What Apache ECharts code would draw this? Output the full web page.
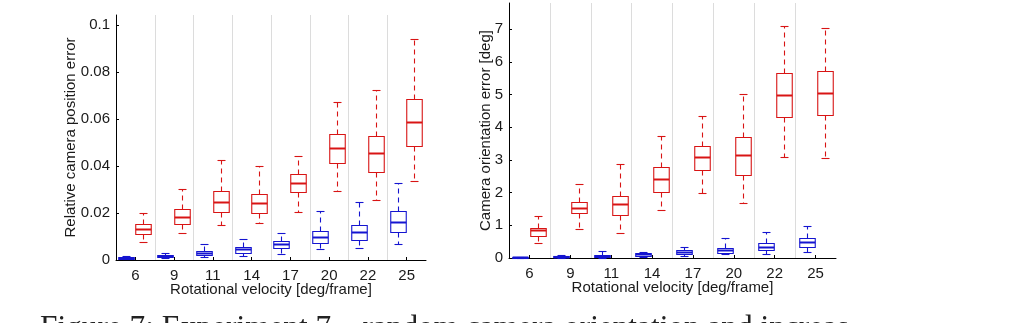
<!DOCTYPE html>
<html>
<head>
<meta charset="utf-8">
<script src="https://cdn.jsdelivr.net/npm/echarts@6/dist/echarts.min.js"></script>
<style>
html,body{margin:0;padding:0;background:#fff;}
#chart{width:1032px;height:323px;}
</style>
</head>
<body>
<div id="chart"></div>
<script>
// ---- data ----
const categories = ['6', '9', '11', '14', '17', '20', '22', '25'];
// each entry: [min, Q1, median, Q3, max]
const positionBlue = [
  [0.0003, 0.0006, 0.0009, 0.0012, 0.0016],
  [0.0007, 0.0011, 0.0016, 0.0021, 0.0031],
  [0.0013, 0.0020, 0.0028, 0.0037, 0.0070],
  [0.0017, 0.0028, 0.0045, 0.0054, 0.0091],
  [0.0024, 0.0051, 0.0067, 0.0081, 0.0113],
  [0.0047, 0.0071, 0.0096, 0.0122, 0.0207],
  [0.0051, 0.0085, 0.0119, 0.0150, 0.0248],
  [0.0067, 0.0118, 0.0163, 0.0207, 0.0326]
];
const positionRed = [
  [0.0075, 0.0109, 0.0133, 0.0152, 0.0199],
  [0.0113, 0.0152, 0.0183, 0.0216, 0.0301],
  [0.0150, 0.0203, 0.0247, 0.0292, 0.0424],
  [0.0156, 0.0199, 0.0244, 0.0279, 0.0400],
  [0.0203, 0.0288, 0.0329, 0.0365, 0.0441],
  [0.0292, 0.0411, 0.0477, 0.0535, 0.0671],
  [0.0254, 0.0376, 0.0454, 0.0529, 0.0722],
  [0.0336, 0.0484, 0.0586, 0.0687, 0.0942]
];
const orientationBlue = [
  [0.00, 0.01, 0.02, 0.03, 0.04],
  [0.01, 0.02, 0.04, 0.05, 0.08],
  [0.01, 0.04, 0.07, 0.10, 0.21],
  [0.04, 0.07, 0.11, 0.14, 0.18],
  [0.07, 0.12, 0.17, 0.24, 0.34],
  [0.11, 0.14, 0.25, 0.32, 0.61],
  [0.13, 0.24, 0.35, 0.46, 0.81],
  [0.19, 0.35, 0.48, 0.61, 0.98]
];
const orientationRed = [
  [0.47, 0.66, 0.85, 0.93, 1.27],
  [0.90, 1.38, 1.53, 1.72, 2.26],
  [0.77, 1.33, 1.65, 1.91, 2.89],
  [1.48, 2.03, 2.41, 2.77, 3.72],
  [2.00, 2.68, 3.10, 3.43, 4.33],
  [1.67, 2.55, 3.15, 3.69, 5.03],
  [3.10, 4.30, 4.98, 5.65, 7.10],
  [3.05, 4.36, 5.04, 5.71, 7.05]
];
const leftYTitle = 'Relative camera position error';
const rightYTitle = 'Camera orientation error [deg]';
const xTitle = 'Rotational velocity [deg/frame]';
const caption = 'Figure 7: Experiment 7 \u2013 random camera orientation and increas';

// ---- styles ----
const RED = '#d81414';
const BLUE = '#1414d0';
const BOX_W = 15.5;
const CAP_W = 8;
const FONT = '"Liberation Sans", Arial, sans-serif';

function rows(arr) {
  return arr.map((r, i) => [i].concat(r));
}

function makeRender(offsetFrac, color) {
  return function (params, api) {
    const i = api.value(0);
    const mn = api.value(1), q1 = api.value(2), md = api.value(3), q3 = api.value(4), mx = api.value(5);
    const band = api.size([1, 0])[0];
    const cx = Math.round(api.coord([i, md])[0] + offsetFrac * band) + 0.5;
    const Y = v => Math.round(api.coord([i, v])[1]) + 0.5;
    const hw = BOX_W / 2, cw = CAP_W / 2;
    const yMn = Y(mn), yQ1 = Y(q1), yMd = Y(md), yQ3 = Y(q3), yMx = Y(mx);
    const solid = { stroke: color, lineWidth: 1.1, fill: null };
    const dashed = { stroke: color, lineWidth: 1.1, lineDash: [5, 4] };
    return {
      type: 'group',
      children: [
        { type: 'line', shape: { x1: cx, y1: yQ3, x2: cx, y2: yMx }, style: dashed },
        { type: 'line', shape: { x1: cx, y1: yQ1, x2: cx, y2: yMn }, style: dashed },
        { type: 'line', shape: { x1: cx - cw, y1: yMx, x2: cx + cw, y2: yMx }, style: solid },
        { type: 'line', shape: { x1: cx - cw, y1: yMn, x2: cx + cw, y2: yMn }, style: solid },
        { type: 'rect', shape: { x: cx - hw, y: yQ3, width: BOX_W, height: Math.max(yQ1 - yQ3, 1) }, style: solid },
        { type: 'line', shape: { x1: cx - hw, y1: yMd, x2: cx + hw, y2: yMd }, style: { stroke: color, lineWidth: 2 } }
      ]
    };
  };
}

function xAxis(gridIndex) {
  return {
    type: 'category', gridIndex: gridIndex, data: categories,
    boundaryGap: true,
    name: xTitle, nameLocation: 'middle', nameGap: 22, nameMoveOverlap: false,
    nameTextStyle: { fontFamily: FONT, fontSize: 15, color: '#1a1a1a' },
    axisLine: { lineStyle: { color: '#000', width: 1 } },
    axisTick: { show: true, inside: true, alignWithLabel: true, length: 3, lineStyle: { color: '#000' } },
    axisLabel: { fontFamily: FONT, fontSize: 15, color: '#1a1a1a', margin: 8 },
    splitLine: { show: true, showMinLine: false, showMaxLine: false, lineStyle: { color: '#dcdcdc', width: 1 } }
  };
}

function yAxis(gridIndex, max, interval, name, nameGap) {
  return {
    type: 'value', gridIndex: gridIndex, min: 0, max: max, interval: interval,
    name: name, nameLocation: 'middle', nameGap: nameGap, nameMoveOverlap: false,
    nameTextStyle: { fontFamily: FONT, fontSize: 15, color: '#1a1a1a' },
    axisLine: { show: true, lineStyle: { color: '#000', width: 1 } },
    axisTick: { show: true, inside: true, length: 3, lineStyle: { color: '#000' } },
    axisLabel: { fontFamily: FONT, fontSize: 15, color: '#1a1a1a', margin: 6, showMaxLabel: false },
    splitLine: { show: false }
  };
}

function series(data, xi, offsetFrac, color) {
  return {
    type: 'custom', xAxisIndex: xi, yAxisIndex: xi,
    data: rows(data),
    encode: { x: 0, y: [1, 2, 3, 4, 5] },
    renderItem: makeRender(offsetFrac, color),
    silent: true
  };
}

const chart = echarts.init(document.getElementById('chart'), null, { renderer: 'canvas' });
chart.setOption({
  animation: false,
  backgroundColor: '#fff',
  grid: [
    { left: 116, right: 606, top: 15, bottom: 63 },
    { left: 509, right: 196, top: 3, bottom: 65 }
  ],
  xAxis: [xAxis(0), xAxis(1)],
  yAxis: [
    yAxis(0, 0.1043, 0.02, leftYTitle, 38),
    yAxis(1, 7.8, 1, rightYTitle, 16)
  ],
  series: [
    series(positionBlue, 0, -0.23, BLUE),
    series(positionRed, 0, 0.2, RED),
    series(orientationBlue, 1, -0.22, BLUE),
    series(orientationRed, 1, 0.22, RED)
  ],
  graphic: [{
    type: 'text', left: 40, top: 313,
    style: { text: caption, font: '31.3px "Liberation Serif", "Times New Roman", serif', fill: '#222' }
  }]
});
</script>
</body>
</html>
